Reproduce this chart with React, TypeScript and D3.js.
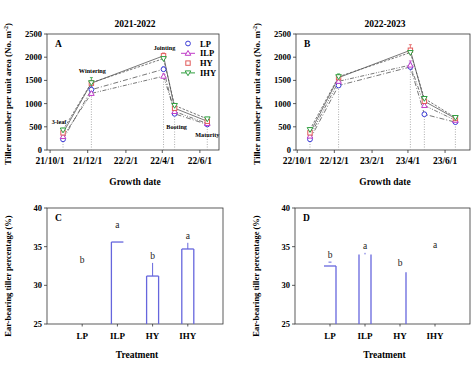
import React from 'react';
import * as d3 from 'd3';

// ---------- DATA ----------
const seriesNames = ['LP', 'ILP', 'HY', 'IHY'];
const stageNames = ['3-leaf', 'Wintering', 'Jointing', 'Booting', 'Maturity'];

const datesA = ['2021-10-22', '2021-12-07', '2022-04-03', '2022-04-21', '2022-06-13'];
const datesB = ['2022-10-22', '2022-12-08', '2023-04-05', '2023-04-28', '2023-06-18'];
const tickDatesA = ['2021-10-01', '2021-12-01', '2022-02-01', '2022-04-01', '2022-06-01'];
const tickDatesB = ['2022-10-01', '2022-12-01', '2023-02-01', '2023-04-01', '2023-06-01'];

const a_LP = [230, 1300, 1740, 780, 550];
const a_ILP = [290, 1220, 1590, 830, 570];
const a_HY = [370, 1440, 2030, 900, 620];
const a_IHY = [430, 1450, 1970, 960, 670];
const aErr_LP = [30, 60, 50, 30, 20];
const aErr_ILP = [30, 60, 50, 30, 20];
const aErr_HY = [30, 60, 60, 30, 20];
const aErr_IHY = [40, 110, 50, 40, 20];

const b_LP = [230, 1390, 1790, 770, 600];
const b_ILP = [300, 1480, 1830, 960, 640];
const b_HY = [370, 1560, 2150, 1050, 680];
const b_IHY = [440, 1580, 2100, 1110, 700];
const bErr_LP = [30, 50, 80, 40, 20];
const bErr_ILP = [30, 50, 90, 40, 20];
const bErr_HY = [30, 50, 120, 40, 20];
const bErr_IHY = [30, 60, 50, 40, 20];

const yTicksLine = [0, 500, 1000, 1500, 2000, 2500];

const treatments = ['LP', 'ILP', 'HY', 'IHY'];
const c_values = [31.5, 35.6, 31.2, 34.7];
const c_err = [0.9, 1.3, 1.7, 0.8];
const c_letters = ['b', 'a', 'b', 'a'];
const d_values = [32.5, 34.0, 31.7, 34.0];
const d_err = [0.5, 0.2, 0.3, 0.3];
const d_letters = ['b', 'a', 'b', 'a'];
const yTicksBar = [25, 30, 35, 40];

// visible bar outline parts (as rendered in the reference)
const c_edges = ['', 'lt', 'ltr', 'ltr'];
const c_errParts = ['', '', 'stem', 'stem'];
const d_edges = ['tr', 'lr', 'r', ''];
const d_errParts = ['cap', 'stem', '', ''];

// ---------- STYLE ----------
const colors = ['#3c3cd6', '#c03cc8', '#e25a5a', '#2e9e3e'];
const dashes = ['5,2,1,2', '4,1.5,1,1.5,1,1.5', '', '2.5,1.5'];
const legendLine = [false, true, false, true];
const FONT = "'Liberation Serif', 'Times New Roman', 'DejaVu Serif', serif";
const barColor = '#6666dd';
const T = { fontFamily: FONT };

const parse = d3.timeParse('%Y-%m-%d');
const fmtDate = (d: Date) => `${d3.timeFormat('%y')(d)}/${d.getMonth() + 1}/${d.getDate()}`;

function Marker({ i, x, y, c }: { i: number; x: number; y: number; c: string }) {
  const r = 2.4;
  if (i === 0) return <circle cx={x} cy={y} r={r} fill="white" stroke={c} strokeWidth={1} />;
  if (i === 1)
    return <path d={`M${x},${y - r - 0.4}L${x + r + 0.4},${y + r - 0.4}L${x - r - 0.4},${y + r - 0.4}Z`} fill="white" stroke={c} strokeWidth={1} />;
  if (i === 2) return <rect x={x - r + 0.2} y={y - r + 0.2} width={2 * r - 0.4} height={2 * r - 0.4} fill="white" stroke={c} strokeWidth={1} />;
  return <path d={`M${x},${y + r + 0.4}L${x + r + 0.4},${y - r + 0.4}L${x - r - 0.4},${y - r + 0.4}Z`} fill="white" stroke={c} strokeWidth={1} />;
}

type LineProps = {
  left: number; right: number; top: number; bottom: number;
  domain: [string, string]; dates: string[]; ticks: string[];
  values: number[][]; errs: number[][];
  title: string; letter: string; showStages: boolean; showLegend: boolean;
};

function LinePanel(p: LineProps) {
  const x = d3.scaleTime().domain([parse(p.domain[0])!, parse(p.domain[1])!]).range([p.left, p.right]);
  const y = d3.scaleLinear().domain([0, 2500]).range([p.bottom, p.top]);
  const dts = p.dates.map((d) => parse(d)!);
  const line = d3.line<number>().x((_, i) => x(dts[i])).y((v) => y(v));
  const cx = (p.left + p.right) / 2;
  const stagePos = [
    { above: true, dx: -4, dy: -4 },
    { above: true, dx: 1, dy: -5 },
    { above: true, dx: 1, dy: -3 },
    { above: false, dx: 2, dy: 14 },
    { above: false, dx: 0, dy: 12 },
  ];
  return (
    <g>
      <text x={cx + 2} y={p.top - 7} textAnchor="middle" style={T} fontWeight="bold" fontSize={9.5}>{p.title}</text>
      <rect x={p.left} y={p.top} width={p.right - p.left} height={p.bottom - p.top} fill="none" stroke="#333" strokeWidth={0.8} />
      {dts.map((d, i) => {
        const mn = d3.min(p.values.map((s) => s[i]))!;
        return <line key={'v' + i} x1={x(d)} x2={x(d)} y1={p.bottom} y2={y(mn)} stroke="#999" strokeWidth={0.8} strokeDasharray="1,1.5" />;
      })}
      {yTicksLine.map((t) => (
        <g key={'yt' + t}>
          <line x1={p.left - 3} x2={p.left} y1={y(t)} y2={y(t)} stroke="#333" strokeWidth={0.8} />
          <text x={p.left - 5} y={y(t) + 3} textAnchor="end" style={T} fontWeight="bold" fontSize={8.5}>{t}</text>
        </g>
      ))}
      {p.ticks.map((t) => {
        const d = parse(t)!;
        return (
          <g key={'xt' + t}>
            <line x1={x(d)} x2={x(d)} y1={p.bottom} y2={p.bottom + 3} stroke="#333" strokeWidth={0.8} />
            <text x={x(d)} y={p.bottom + 14} textAnchor="middle" style={T} fontWeight="bold" fontSize={9.5}>{fmtDate(d)}</text>
          </g>
        );
      })}
      <text x={cx + 2} y={p.bottom + 35} textAnchor="middle" style={T} fontWeight="bold" fontSize={9.5}>Growth date</text>
      <text transform={`translate(${p.left - 36},${(p.top + p.bottom) / 2 + 2}) rotate(-90)`} textAnchor="middle" style={T} fontWeight="bold" fontSize={9}>
        Tiller number per unit area (No. m<tspan dy={-3} fontSize={6}>-2</tspan><tspan dy={3}>)</tspan>
      </text>
      <text x={p.left + 8} y={p.top + 13} style={T} fontWeight="bold" fontSize={9.5}>{p.letter}</text>
      {p.values.map((s, si) => (
        <path key={'l' + si} d={line(s)!} fill="none" stroke="#555" strokeWidth={0.8} strokeDasharray={dashes[si]} />
      ))}
      {p.values.map((s, si) =>
        s.map((v, i) => (
          <g key={'e' + si + '_' + i}>
            <line x1={x(dts[i])} x2={x(dts[i])} y1={y(v - p.errs[si][i])} y2={y(v + p.errs[si][i])} stroke={colors[si]} strokeWidth={0.8} />
            <line x1={x(dts[i]) - 1.5} x2={x(dts[i]) + 1.5} y1={y(v + p.errs[si][i])} y2={y(v + p.errs[si][i])} stroke={colors[si]} strokeWidth={0.8} />
          </g>
        ))
      )}
      {p.values.map((s, si) => s.map((v, i) => <Marker key={'m' + si + '_' + i} i={si} x={x(dts[i])} y={y(v)} c={colors[si]} />))}
      {p.showStages &&
        stageNames.map((n, i) => {
          const vals = p.values.map((s, si) => s[i] + (stagePos[i].above ? p.errs[si][i] : -p.errs[si][i]));
          const ref = stagePos[i].above ? d3.max(vals)! : d3.min(vals)!;
          return (
            <text key={'s' + i} x={x(dts[i]) + stagePos[i].dx} y={y(ref) + stagePos[i].dy} textAnchor="middle" style={T} fontWeight="bold" fontSize={6.2}>{n}</text>
          );
        })}
      {p.showLegend &&
        seriesNames.map((n, i) => {
          const ly = p.top + 9.5 + i * 9.8;
          const lx = p.right - 31;
          return (
            <g key={'lg' + i}>
              {legendLine[i] && <line x1={lx - 7} x2={lx + 7} y1={ly} y2={ly} stroke={colors[i]} strokeWidth={1} />}
              <Marker i={i} x={lx} y={ly} c={colors[i]} />
              <text x={lx + 12} y={ly + 3} style={T} fontWeight="bold" fontSize={8.5}>{n}</text>
            </g>
          );
        })}
    </g>
  );
}

type BarProps = {
  left: number; right: number; top: number; bottom: number;
  values: number[]; errs: number[]; letters: string[]; edges: string[]; errParts: string[];
  letter: string; titleY: number;
};

function BarPanel(p: BarProps) {
  const x = d3.scalePoint<string>().domain(treatments).range([p.left, p.right]).padding(1);
  const y = d3.scaleLinear().domain([25, 40]).range([p.bottom, p.top]);
  const bw = 12;
  const cx = (p.left + p.right) / 2;
  return (
    <g>
      <rect x={p.left} y={p.top} width={p.right - p.left} height={p.bottom - p.top} fill="none" stroke="#333" strokeWidth={0.8} />
      {yTicksBar.map((t) => (
        <g key={'yt' + t}>
          <line x1={p.left - 3} x2={p.left} y1={y(t)} y2={y(t)} stroke="#333" strokeWidth={0.8} />
          <text x={p.left - 5} y={y(t) + 3} textAnchor="end" style={T} fontWeight="bold" fontSize={8.5}>{t}</text>
        </g>
      ))}
      {treatments.map((t) => (
        <g key={'xt' + t}>
          <line x1={x(t)!} x2={x(t)!} y1={p.bottom} y2={p.bottom + 2.5} stroke="#333" strokeWidth={0.8} />
          <text x={x(t)!} y={p.bottom + 15} textAnchor="middle" style={T} fontWeight="bold" fontSize={9}>{t}</text>
        </g>
      ))}
      <text x={cx + 2} y={p.titleY} textAnchor="middle" style={T} fontWeight="bold" fontSize={9.5}>Treatment</text>
      <text transform={`translate(${p.left - 36},${(p.top + p.bottom) / 2 + 10}) rotate(-90)`} textAnchor="middle" style={T} fontWeight="bold" fontSize={8.5}>Ear-bearing tiller percentage (%)</text>
      <text x={p.left + 8} y={p.top + 13} style={T} fontWeight="bold" fontSize={9.5}>{p.letter}</text>
      {treatments.map((t, i) => {
        const x0 = x(t)! - bw / 2;
        const x1 = x(t)! + bw / 2;
        const yt = y(p.values[i]);
        const ye = y(p.values[i] + p.errs[i]);
        const e = p.edges[i];
        return (
          <g key={'b' + i} stroke={barColor} strokeWidth={1.3} fill="none">
            {e.includes('l') && <line x1={x0} x2={x0} y1={p.bottom} y2={yt} />}
            {e.includes('r') && <line x1={x1} x2={x1} y1={p.bottom} y2={yt} />}
            {e.includes('t') && <line x1={x0} x2={x1} y1={yt} y2={yt} />}
            {p.errParts[i] === 'stem' && <line x1={x(t)!} x2={x(t)!} y1={yt} y2={ye} strokeWidth={1} />}
            {p.errParts[i] === 'cap' && <line x1={x(t)! - 1.5} x2={x(t)! + 1.5} y1={ye} y2={ye} strokeWidth={1} />}
          </g>
        );
      })}
      {treatments.map((t, i) => (
        <text key={'lt' + i} x={x(t)!} y={y(p.values[i] + p.errs[i]) - 4} textAnchor="middle" style={T} fontSize={9.5} fill="#222">{p.letters[i]}</text>
      ))}
    </g>
  );
}

export default function App() {
  return (
    <svg width={474} height={375} style={{ position: 'absolute', left: 0, top: 0, background: 'white', fontFamily: FONT }}>
      <rect width={474} height={375} fill="white" />
      <LinePanel left={47} right={219} top={34} bottom={150} domain={['2021-09-26', '2022-07-02']} dates={datesA} ticks={tickDatesA}
        values={[a_LP, a_ILP, a_HY, a_IHY]} errs={[aErr_LP, aErr_ILP, aErr_HY, aErr_IHY]} title="2021-2022" letter="A" showStages={true} showLegend={true} />
      <LinePanel left={296} right={470} top={34} bottom={150} domain={['2022-09-29', '2023-07-12']} dates={datesB} ticks={tickDatesB}
        values={[b_LP, b_ILP, b_HY, b_IHY]} errs={[bErr_LP, bErr_ILP, bErr_HY, bErr_IHY]} title="2022-2023" letter="B" showStages={false} showLegend={false} />
      <BarPanel left={47} right={223} top={208} bottom={324} values={c_values} errs={c_err} letters={c_letters} edges={c_edges} errParts={c_errParts} letter="C" titleY={358} />
      <BarPanel left={295} right={470} top={208} bottom={324} values={d_values} errs={d_err} letters={d_letters} edges={d_edges} errParts={d_errParts} letter="D" titleY={358} />
    </svg>
  );
}
